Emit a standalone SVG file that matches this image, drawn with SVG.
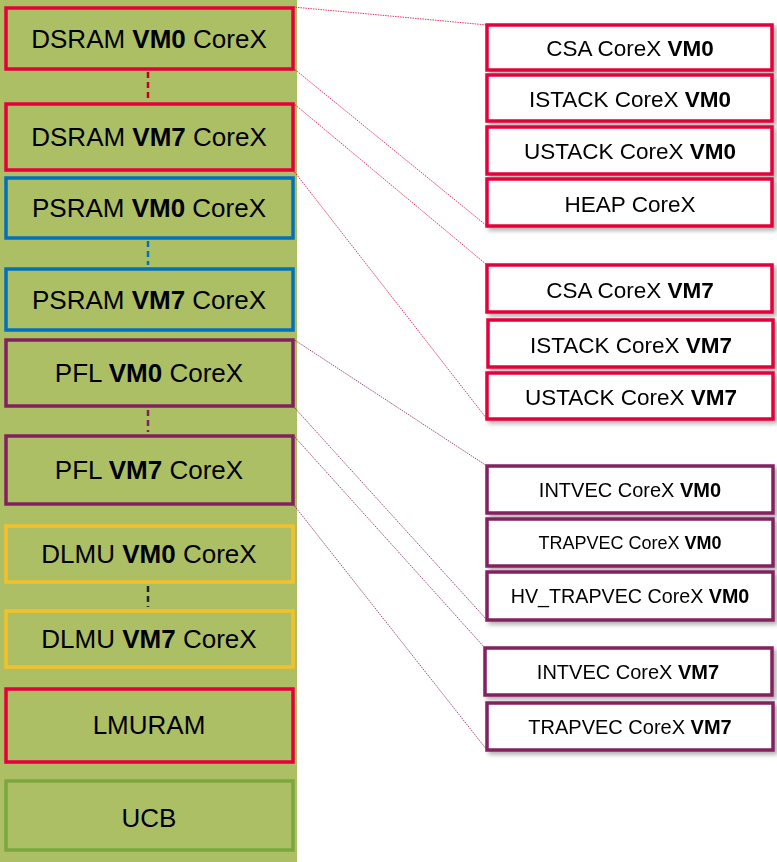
<svg xmlns="http://www.w3.org/2000/svg" width="777" height="862" viewBox="0 0 777 862">
<defs>
<style>
text{font-family:"Liberation Sans",Arial,sans-serif;fill:#000;text-anchor:middle;dominant-baseline:central}
.l{font-size:26px}
.r{fill:#fff;stroke-width:3.5}
.lb{fill:none;stroke-width:3.5}
.red{stroke:#e4003a}.blu{stroke:#0071bb}.pur{stroke:#83205f}.yel{stroke:#f4c12a}.grn{stroke:#7aa83e}
.b{font-weight:bold}
</style>
<filter id="sh" x="-5%" y="-10%" width="115%" height="130%"><feDropShadow dx="3" dy="3" stdDeviation="2" flood-color="#000" flood-opacity="0.3"/></filter>
</defs>
<rect x="0" y="0" width="297" height="862" fill="#adbf65"/>
<g id="connectors" fill="none" stroke-width="0.8" stroke-dasharray="1.5 1">
<line x1="148" y1="72" x2="148" y2="100" stroke="#c0002a" stroke-width="2.5" stroke-dasharray="6 4"/>
<line x1="148" y1="241" x2="148" y2="265" stroke="#0071bb" stroke-width="2.5" stroke-dasharray="6 4"/>
<line x1="148" y1="410" x2="148" y2="432" stroke="#83205f" stroke-width="2.5" stroke-dasharray="6 4"/>
<line x1="148" y1="586" x2="148" y2="607" stroke="#222" stroke-width="2.5" stroke-dasharray="6 4"/>
<g stroke="#e4003a">
<line x1="293" y1="7" x2="487" y2="25"/>
<line x1="293" y1="68" x2="487" y2="226"/>
<line x1="293" y1="103" x2="487" y2="265"/>
<line x1="293" y1="170" x2="487" y2="419"/>
</g>
<g stroke="#83205f">
<line x1="293" y1="339" x2="487" y2="466"/>
<line x1="293" y1="406" x2="487" y2="620"/>
<line x1="293" y1="435" x2="485" y2="648"/>
<line x1="293" y1="504" x2="487" y2="750"/>
</g>
</g>
<g id="n1"><rect class="lb red" x="6" y="8" width="287" height="61"/><text class="l" x="149" y="39">DSRAM <tspan class="b">VM0</tspan> CoreX</text></g>
<g id="n2"><rect class="lb red" x="6" y="104" width="287" height="66"/><text class="l" x="149" y="137">DSRAM <tspan class="b">VM7</tspan> CoreX</text></g>
<g id="n3"><rect class="lb blu" x="6" y="178" width="287" height="60"/><text class="l" x="149" y="208">PSRAM <tspan class="b">VM0</tspan> CoreX</text></g>
<g id="n4"><rect class="lb blu" x="6" y="269" width="287" height="61"/><text class="l" x="149" y="300">PSRAM <tspan class="b">VM7</tspan> CoreX</text></g>
<g id="n5"><rect class="lb pur" x="6" y="340" width="287" height="66"/><text class="l" x="149" y="373">PFL <tspan class="b">VM0</tspan> CoreX</text></g>
<g id="n6"><rect class="lb pur" x="6" y="436" width="287" height="68"/><text class="l" x="149" y="470">PFL <tspan class="b">VM7</tspan> CoreX</text></g>
<g id="n7"><rect class="lb yel" x="6" y="526" width="287" height="56"/><text class="l" x="149" y="554">DLMU <tspan class="b">VM0</tspan> CoreX</text></g>
<g id="n8"><rect class="lb yel" x="6" y="611" width="287" height="56"/><text class="l" x="149" y="639">DLMU <tspan class="b">VM7</tspan> CoreX</text></g>
<g id="n9"><rect class="lb red" x="6" y="689" width="287" height="73"/><text class="l" x="149" y="725">LMURAM</text></g>
<g id="n10"><rect class="lb grn" x="6" y="781" width="287" height="69"/><text class="l" x="149" y="818">UCB</text></g>
<g filter="url(#sh)">
<g id="r1"><rect class="r red" x="487" y="25" width="285" height="45"/><text x="630" y="48" font-size="22.5">CSA CoreX <tspan class="b">VM0</tspan></text></g>
<g id="r2"><rect class="r red" x="487" y="75" width="285" height="46"/><text x="630" y="99" font-size="22.5">ISTACK CoreX <tspan class="b">VM0</tspan></text></g>
<g id="r3"><rect class="r red" x="487" y="127" width="285" height="47"/><text x="630" y="151" font-size="22.5">USTACK CoreX <tspan class="b">VM0</tspan></text></g>
<g id="r4"><rect class="r red" x="487" y="179" width="285" height="47"/><text x="630" y="204" font-size="22.5">HEAP CoreX</text></g>
<g id="r5"><rect class="r red" x="487" y="265" width="285" height="47"/><text x="630" y="290" font-size="22.5">CSA CoreX <tspan class="b">VM7</tspan></text></g>
<g id="r6"><rect class="r red" x="488" y="320" width="285" height="47"/><text x="631" y="345" font-size="22.5">ISTACK CoreX <tspan class="b">VM7</tspan></text></g>
<g id="r7"><rect class="r red" x="487" y="373" width="286" height="46"/><text x="631" y="397" font-size="22.5">USTACK CoreX <tspan class="b">VM7</tspan></text></g>
<g id="r8"><rect class="r pur" x="487" y="466" width="286" height="47"/><text x="630" y="490" font-size="20">INTVEC CoreX <tspan class="b">VM0</tspan></text></g>
<g id="r9"><rect class="r pur" x="487" y="519" width="286" height="47"/><text x="630" y="543" font-size="18">TRAPVEC CoreX <tspan class="b">VM0</tspan></text></g>
<g id="r10"><rect class="r pur" x="487" y="572" width="286" height="48"/><text x="630" y="596" font-size="19.7">HV_TRAPVEC CoreX <tspan class="b">VM0</tspan></text></g>
<g id="r11"><rect class="r pur" x="485" y="648" width="287" height="47"/><text x="628" y="672" font-size="20">INTVEC CoreX <tspan class="b">VM7</tspan></text></g>
<g id="r12"><rect class="r pur" x="487" y="703" width="286" height="47"/><text x="630" y="727" font-size="20">TRAPVEC CoreX <tspan class="b">VM7</tspan></text></g>
</g>
</svg>
